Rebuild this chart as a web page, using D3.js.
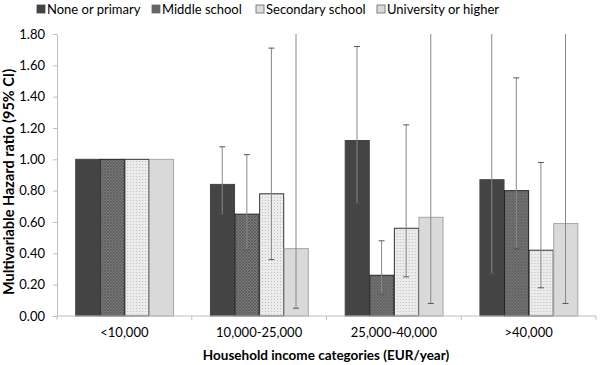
<!DOCTYPE html>
<html>
<head>
<meta charset="utf-8">
<script src="https://cdn.jsdelivr.net/npm/d3@7"></script>
<style>
  body { margin: 0; background: #fff; }
  svg { font-family: Lato, "Open Sans", sans-serif; }
</style>
</head>
<body>
<svg id="chart" width="600" height="365"></svg>
<script>
// data
const categories = ['<10,000', '10,000-25,000', '25,000-40,000', '>40,000']
const groups = ['None or primary', 'Middle school', 'Secondary school', 'University or higher']
const hr = [
  [1.00, 1.00, 1.00, 1.00],
  [0.84, 0.65, 0.78, 0.43],
  [1.12, 0.26, 0.56, 0.63],
  [0.87, 0.80, 0.42, 0.59]
]
// CI bounds (null = reference, no interval)
const ciLow = [
  [null, null, null, null],
  [0.65, 0.42, 0.36, 0.05],
  [0.72, 0.14, 0.25, 0.08],
  [0.27, 0.43, 0.18, 0.08]
]
const ciHigh = [
  [null, null, null, null],
  [1.08, 1.03, 1.71, 2.50],
  [1.72, 0.48, 1.22, 2.50],
  [2.50, 1.52, 0.98, 2.50]
]
const yTicks = [0, 0.2, 0.4, 0.6, 0.8, 1.0, 1.2, 1.4, 1.6, 1.8]

const svg = d3.select('#chart')
const margin = {top: 34, bottom: 49, left: 57, right: 4}
const width = +svg.attr('width')
const height = +svg.attr('height')
const visWidth = width - margin.left - margin.right
const visHeight = height - margin.top - margin.bottom

// patterns for the hatched bars
const defs = svg.append('defs')
const p1 = defs.append('pattern').attr('id', 'hatch').attr('width', 3).attr('height', 3)
  .attr('patternUnits', 'userSpaceOnUse')
p1.append('rect').attr('width', 3).attr('height', 3).attr('fill', '#7a7a7a')
p1.append('path').attr('d', 'M0,0L3,3M3,0L0,3').attr('stroke', '#555').attr('stroke-width', 0.7)
const p2 = defs.append('pattern').attr('id', 'dots').attr('width', 3).attr('height', 3)
  .attr('patternUnits', 'userSpaceOnUse')
p2.append('rect').attr('width', 3).attr('height', 3).attr('fill', '#ececec')
p2.append('rect').attr('x', 1).attr('y', 1).attr('width', 1).attr('height', 1).attr('fill', '#bbb')

const fills = ['#444444', 'url(#hatch)', 'url(#dots)', '#d9d9d9']
const strokes = ['#444444', '#222', '#333', '#a6a6a6']
const swatch = ['#444444', '#666666', '#dcdcdc', '#d9d9d9']

const x = d3.scaleBand().domain(categories).range([0, visWidth]).paddingInner(0.27).paddingOuter(0.135)
const xIn = d3.scaleBand().domain(groups).range([0, x.bandwidth()])
const y = d3.scaleLinear().domain([0, 1.8]).range([visHeight, 0])

const g = svg.append('g').attr('transform', `translate(${margin.left},${margin.top})`)

// y axis
const yAxis = g.append('g')
  .call(d3.axisLeft(y).tickValues(yTicks).tickFormat(d3.format('.2f')).tickSize(4).tickPadding(8))
yAxis.selectAll('line, path').attr('stroke', '#bfbfbf')
yAxis.selectAll('text').attr('font-size', 13).attr('fill', '#000').attr('font-family', 'Lato')

// bars
const rows = categories.map((c, i) => groups.map((s, j) => ({
  cat: c, grp: s, j, v: hr[i][j], lo: ciLow[i][j], hi: ciHigh[i][j]
})))

const cat = g.selectAll('g.cat').data(rows).join('g').attr('class', 'cat')
  .attr('transform', (d, i) => `translate(${x(categories[i])},0)`)

cat.selectAll('rect').data(d => d).join('rect')
  .attr('x', d => xIn(d.grp) + 0.5)
  .attr('y', d => y(d.v))
  .attr('width', xIn.bandwidth() - 0.5)
  .attr('height', d => y(0) - y(d.v))
  .attr('fill', d => fills[d.j])
  .attr('stroke', d => strokes[d.j])
  .attr('stroke-width', 1)

// x axis
const xAxisLine = g.append('g').attr('transform', `translate(0,${visHeight})`)
xAxisLine.append('line').attr('x1', 0).attr('x2', visWidth).attr('stroke', '#bfbfbf')
xAxisLine.selectAll('line.tk').data(d3.range(categories.length + 1)).join('line').attr('class', 'tk')
  .attr('x1', i => i * x.step()).attr('x2', i => i * x.step()).attr('y1', 0).attr('y2', 4)
  .attr('stroke', '#bfbfbf')
xAxisLine.selectAll('text').data(categories).join('text')
  .attr('x', d => x(d) + x.bandwidth() / 2)
  .attr('y', 21)
  .attr('text-anchor', 'middle')
  .attr('font-size', 13)
  .text(d => d)

// error bars
const ci = cat.selectAll('g.ci').data(d => d.filter(e => e.lo !== null)).join('g').attr('class', 'ci')
  .attr('transform', d => `translate(${xIn(d.grp) + xIn.bandwidth() / 2},0)`)
ci.append('line')
  .attr('y1', d => y(d.lo)).attr('y2', d => y(Math.min(d.hi, 1.8)))
  .attr('stroke', '#888').attr('stroke-width', 1)
ci.append('line')
  .attr('x1', -3).attr('x2', 3).attr('y1', d => y(d.lo)).attr('y2', d => y(d.lo))
  .attr('stroke', '#555').attr('stroke-width', 1)
ci.filter(d => d.hi <= 1.8).append('line')
  .attr('x1', -3).attr('x2', 3).attr('y1', d => y(d.hi)).attr('y2', d => y(d.hi))
  .attr('stroke', '#555').attr('stroke-width', 1)

// axis titles
svg.append('text')
  .attr('transform', `translate(14,182) rotate(-90)`)
  .attr('text-anchor', 'middle').attr('font-weight', 'bold').attr('font-size', 14.5)
  .text('Multivariable Hazard ratio (95% CI)')
svg.append('text')
  .attr('x', 326).attr('y', 360)
  .attr('text-anchor', 'middle').attr('font-weight', 'bold').attr('font-size', 13.5)
  .text('Household income categories (EUR/year)')

// legend
const legendX = [37, 152, 256, 377]
const legend = svg.append('g').selectAll('g').data(groups).join('g')
  .attr('transform', (d, i) => `translate(${legendX[i]},9)`)
legend.append('rect').attr('x', 0).attr('y', -4).attr('width', 8).attr('height', 8)
  .attr('fill', (d, i) => swatch[i]).attr('stroke', (d, i) => i === 0 ? '#444' : '#666').attr('stroke-width', 0.8)
legend.append('text').attr('x', 10).attr('y', 4.5).attr('font-size', 13).text(d => d)
</script>
</body>
</html>
